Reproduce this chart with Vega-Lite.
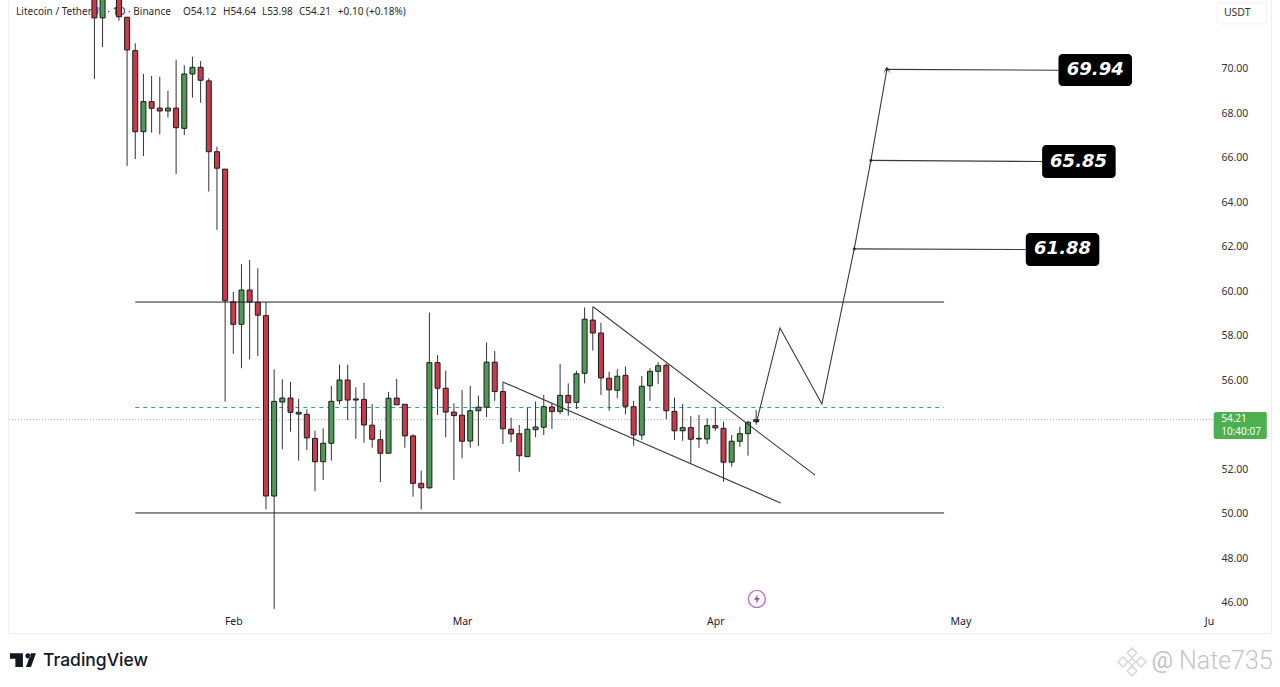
{
  "$schema": "https://vega.github.io/schema/vega-lite/v6.json",
  "width": 1280,
  "height": 687,
  "padding": 0,
  "autosize": {"type": "none"},
  "background": "#ffffff",
  "config": {"view": {"stroke": null}},
  "datasets": {
    "candles": [
      {"date":"2026-01-15","open":73.5,"high":74,"low":69.51,"close":72.25},
      {"date":"2026-01-16","open":72.25,"high":74.5,"low":70.94,"close":74},
      {"date":"2026-01-18","open":74,"high":74.5,"low":72.12,"close":72.3},
      {"date":"2026-01-19","open":72.28,"high":72.29,"low":65.6,"close":70.81},
      {"date":"2026-01-20","open":70.78,"high":71.11,"low":65.91,"close":67.14},
      {"date":"2026-01-21","open":67.14,"high":69.73,"low":66.05,"close":68.49},
      {"date":"2026-01-22","open":68.49,"high":69.64,"low":67.1,"close":68.19},
      {"date":"2026-01-23","open":68.2,"high":69.61,"low":67.02,"close":68.07},
      {"date":"2026-01-24","open":68.07,"high":68.98,"low":67.77,"close":68.2},
      {"date":"2026-01-25","open":68.2,"high":70.36,"low":65.24,"close":67.32},
      {"date":"2026-01-26","open":67.29,"high":70.12,"low":66.98,"close":69.73},
      {"date":"2026-01-27","open":69.73,"high":70.51,"low":68.67,"close":70.03},
      {"date":"2026-01-28","open":70.03,"high":70.31,"low":68.44,"close":69.45},
      {"date":"2026-01-29","open":69.42,"high":69.54,"low":64.45,"close":66.24},
      {"date":"2026-01-30","open":66.24,"high":66.47,"low":62.73,"close":65.5},
      {"date":"2026-01-31","open":65.46,"high":65.46,"low":55.02,"close":59.55},
      {"date":"2026-02-01","open":59.5,"high":59.95,"low":57.16,"close":58.49},
      {"date":"2026-02-02","open":58.49,"high":61.19,"low":56.52,"close":60.03},
      {"date":"2026-02-03","open":60.03,"high":61.38,"low":56.92,"close":59.49},
      {"date":"2026-02-04","open":59.48,"high":61.01,"low":57.07,"close":58.9},
      {"date":"2026-02-05","open":58.88,"high":59.49,"low":50.18,"close":50.78},
      {"date":"2026-02-06","open":50.78,"high":56.47,"low":45.71,"close":55.03},
      {"date":"2026-02-07","open":55,"high":56.02,"low":52.88,"close":55.18},
      {"date":"2026-02-08","open":55.18,"high":55.91,"low":53.67,"close":54.54},
      {"date":"2026-02-09","open":54.46,"high":55.14,"low":52.37,"close":54.54},
      {"date":"2026-02-10","open":54.45,"high":54.67,"low":52.85,"close":53.39},
      {"date":"2026-02-11","open":53.37,"high":53.71,"low":51,"close":52.32},
      {"date":"2026-02-12","open":52.32,"high":53.82,"low":51.5,"close":53.15},
      {"date":"2026-02-13","open":53.15,"high":55.72,"low":52.37,"close":55.03},
      {"date":"2026-02-14","open":55.06,"high":56.68,"low":54.9,"close":55.99},
      {"date":"2026-02-15","open":55.99,"high":56.68,"low":54.19,"close":55.09},
      {"date":"2026-02-16","open":55.14,"high":55.66,"low":53.35,"close":55.09},
      {"date":"2026-02-17","open":55.12,"high":55.87,"low":53.17,"close":53.97},
      {"date":"2026-02-18","open":53.96,"high":54.91,"low":52.95,"close":53.33},
      {"date":"2026-02-19","open":53.31,"high":53.75,"low":51.41,"close":52.7},
      {"date":"2026-02-20","open":52.7,"high":55.45,"low":52.7,"close":55.17},
      {"date":"2026-02-21","open":55.18,"high":56.04,"low":54.88,"close":54.88},
      {"date":"2026-02-22","open":54.9,"high":54.9,"low":52.95,"close":53.48},
      {"date":"2026-02-23","open":53.48,"high":53.55,"low":50.75,"close":51.35},
      {"date":"2026-02-24","open":51.35,"high":51.92,"low":50.18,"close":51.15},
      {"date":"2026-02-25","open":51.15,"high":59.01,"low":51.1,"close":56.77},
      {"date":"2026-02-26","open":56.77,"high":57.11,"low":54.42,"close":55.62},
      {"date":"2026-02-27","open":55.62,"high":56.41,"low":53.42,"close":54.55},
      {"date":"2026-02-28","open":54.55,"high":54.94,"low":51.5,"close":54.39},
      {"date":"2026-03-01","open":54.41,"high":55.54,"low":52.48,"close":53.24},
      {"date":"2026-03-02","open":53.25,"high":55.72,"low":52.95,"close":54.61},
      {"date":"2026-03-03","open":54.61,"high":55.29,"low":53.03,"close":54.77},
      {"date":"2026-03-04","open":54.77,"high":57.67,"low":54.32,"close":56.79},
      {"date":"2026-03-05","open":56.79,"high":57.29,"low":55.05,"close":55.47},
      {"date":"2026-03-06","open":55.47,"high":55.91,"low":53.12,"close":53.8},
      {"date":"2026-03-07","open":53.78,"high":54.3,"low":53.19,"close":53.57},
      {"date":"2026-03-08","open":53.58,"high":53.97,"low":51.87,"close":52.59},
      {"date":"2026-03-09","open":52.55,"high":54.77,"low":52.55,"close":53.78},
      {"date":"2026-03-10","open":53.76,"high":55.02,"low":53.42,"close":53.88},
      {"date":"2026-03-11","open":53.87,"high":55.32,"low":53.52,"close":54.79},
      {"date":"2026-03-12","open":54.78,"high":54.97,"low":53.79,"close":54.57},
      {"date":"2026-03-13","open":54.58,"high":56.71,"low":54.46,"close":55.3},
      {"date":"2026-03-14","open":55.3,"high":55.84,"low":54.39,"close":54.97},
      {"date":"2026-03-15","open":54.99,"high":56.41,"low":54.69,"close":56.27},
      {"date":"2026-03-16","open":56.29,"high":59.25,"low":55.84,"close":58.72},
      {"date":"2026-03-17","open":58.68,"high":59.28,"low":57.31,"close":58.1},
      {"date":"2026-03-18","open":58.1,"high":58.56,"low":55.32,"close":56.08},
      {"date":"2026-03-19","open":56.07,"high":56.36,"low":54.61,"close":55.55},
      {"date":"2026-03-20","open":55.53,"high":56.47,"low":55.17,"close":56.16},
      {"date":"2026-03-21","open":56.2,"high":56.59,"low":54.45,"close":54.81},
      {"date":"2026-03-22","open":54.79,"high":55.05,"low":53.04,"close":53.52},
      {"date":"2026-03-23","open":53.52,"high":56.17,"low":53.3,"close":55.71},
      {"date":"2026-03-24","open":55.73,"high":56.52,"low":55.05,"close":56.38},
      {"date":"2026-03-25","open":56.38,"high":56.79,"low":55.81,"close":56.63},
      {"date":"2026-03-26","open":56.65,"high":56.74,"low":54.23,"close":54.61},
      {"date":"2026-03-27","open":54.58,"high":55.2,"low":53.3,"close":53.71},
      {"date":"2026-03-28","open":53.71,"high":54.91,"low":53.26,"close":53.85},
      {"date":"2026-03-29","open":53.85,"high":54.37,"low":52.25,"close":53.33},
      {"date":"2026-03-30","open":53.37,"high":54.42,"low":52.95,"close":53.34},
      {"date":"2026-03-31","open":53.34,"high":54.27,"low":53.12,"close":53.94},
      {"date":"2026-04-01","open":53.94,"high":54.77,"low":53.71,"close":53.84},
      {"date":"2026-04-02","open":53.82,"high":54.12,"low":51.42,"close":52.3},
      {"date":"2026-04-03","open":52.3,"high":53.52,"low":52.1,"close":53.24},
      {"date":"2026-04-04","open":53.24,"high":53.89,"low":52.99,"close":53.58},
      {"date":"2026-04-05","open":53.58,"high":54.16,"low":52.59,"close":54.09},
      {"date":"2026-04-06","open":54.12,"high":54.64,"low":53.98,"close":54.21}
    ],
    "levels": [
      {"id":"top","date":"2026-01-20","price":59.49},
      {"id":"top","date":"2026-04-29","price":59.49},
      {"id":"bottom","date":"2026-01-20","price":50.02},
      {"id":"bottom","date":"2026-04-29","price":50.02}
    ],
    "drawing": [
      {"id":"upper","date":"2026-03-17T01:00:00Z","price":59.28},
      {"id":"upper","date":"2026-04-13T05:00:00Z","price":51.72},
      {"id":"lower","date":"2026-03-06","price":55.9},
      {"id":"lower","date":"2026-04-09","price":50.47},
      {"id":"path","date":"2026-04-06T02:00:00Z","price":54.15},
      {"id":"path","date":"2026-04-08T22:00:00Z","price":58.33},
      {"id":"path","date":"2026-04-14T01:00:00Z","price":54.91},
      {"id":"path","date":"2026-04-18","price":61.88},
      {"id":"path","date":"2026-04-20T01:00:00Z","price":65.85},
      {"id":"path","date":"2026-04-22","price":69.94},
      {"id":"t1","date":"2026-04-18","price":61.88},
      {"id":"t1","date":"2026-05-09","price":61.85},
      {"id":"t2","date":"2026-04-20T01:00:00Z","price":65.85},
      {"id":"t2","date":"2026-05-11","price":65.8},
      {"id":"t3","date":"2026-04-22","price":69.94},
      {"id":"t3","date":"2026-05-13","price":69.9}
    ],
    "nodes": [
      {"date":"2026-04-06T02:00:00Z","price":54.15},
      {"date":"2026-04-18","price":61.88},
      {"date":"2026-04-20T01:00:00Z","price":65.85},
      {"date":"2026-04-22","price":69.94}
    ],
    "targets": [
      {"date":"2026-05-13","date2":"2026-05-22","price":70.63,"price2":69.19,"mid":"2026-05-17T12:00:00Z","pmid":69.91,"label":"69.94"},
      {"date":"2026-05-11","date2":"2026-05-20","price":66.54,"price2":65.06,"mid":"2026-05-15T11:00:00Z","pmid":65.8,"label":"65.85"},
      {"date":"2026-05-09","date2":"2026-05-18","price":62.59,"price2":61.11,"mid":"2026-05-13T12:00:00Z","pmid":61.85,"label":"61.88"}
    ],
    "header": [
      {"date":"2026-01-05T10:00:00Z","price":72.51,"label":"Litecoin / TetherUS · 1D · Binance"},
      {"date":"2026-01-25T20:00:00Z","price":72.51,"label":"O54.12"},
      {"date":"2026-01-30T18:00:00Z","price":72.51,"label":"H54.64"},
      {"date":"2026-02-04T12:00:00Z","price":72.51,"label":"L53.98"},
      {"date":"2026-02-09T01:00:00Z","price":72.51,"label":"C54.21"},
      {"date":"2026-02-13T19:00:00Z","price":72.51,"label":"+0.10 (+0.18%)"}
    ],
    "lastPrice": [
      {"date":"2026-06-01T22:00:00Z","price":54.26,"label":"54.21"},
      {"date":"2026-06-01T22:00:00Z","price":53.66,"label":"10:40:07"}
    ]
  },
  "encoding": {
    "x": {
      "field": "date",
      "type": "temporal",
      "title": null,
      "scale": {"type": "utc", "padding": 0, "domain": [1767436761600, 1780973136000]},
      "axis": {
        "orient": "bottom",
        "offset": -71,
        "values": [1769904000000, 1772323200000, 1775001600000, 1777593600000, 1780272000000],
        "format": "%b",
        "labelExpr": "datum.label == 'Jun' ? 'Ju' : datum.label",
        "labelAlign": {"condition": {"test": "datum.value > 1780000000000", "value": "right"}, "value": "center"},
        "labelFont": "Noto Sans",
        "labelFontSize": 10.5,
        "labelColor": "#222222",
        "labelPadding": 0,
        "labelFlush": false,
        "labelOverlap": false,
        "ticks": false,
        "domain": false,
        "grid": false
      }
    },
    "y": {
      "field": "price",
      "type": "quantitative",
      "title": null,
      "scale": {"domain": [42.205, 73.053], "nice": false, "zero": false},
      "axis": {
        "orient": "right",
        "offset": -59,
        "values": [46, 48, 50, 52, 56, 58, 60, 62, 64, 66, 68, 70],
        "format": ".2f",
        "labelFont": "Noto Sans",
        "labelFontSize": 10.5,
        "labelColor": "#333333",
        "labelPadding": 0,
        "labelOffset": 0.5,
        "ticks": false,
        "domain": false,
        "grid": false
      }
    }
  },
  "layer": [
    {
      "data": {"values": [{"date":"2026-01-04T12:00:00Z","date2":"2026-06-08T02:00:00Z","price":74,"price2":44.61}]},
      "mark": {"type": "rect", "fill": null, "stroke": "#eeeeee", "strokeWidth": 1},
      "encoding": {"x2": {"field": "date2"}, "y2": {"field": "price2"}}
    },
    {
      "data": {"name": "header"},
      "mark": {"type": "text", "align": "left", "baseline": "middle", "font": "Noto Sans", "fontSize": 10, "color": "#2a2a2a"},
      "encoding": {"text": {"field": "label"}}
    },
    {
      "data": {"values": [{"date":"2026-01-04T13:00:00Z","price":54.21},{"date":"2026-06-01","price":54.21}]},
      "mark": {"type": "line", "stroke": "#9fb0a4", "strokeWidth": 1, "strokeDash": [1, 2]}
    },
    {
      "data": {"values": [{"date":"2026-01-20","price":54.755},{"date":"2026-04-29","price":54.755}]},
      "mark": {"type": "line", "stroke": "#2f9db5", "strokeWidth": 1, "strokeDash": [4, 4]}
    },
    {
      "data": {"name": "candles"},
      "mark": {"type": "rule", "stroke": "#333333", "strokeWidth": 1},
      "encoding": {
        "y": {"field": "high", "type": "quantitative", "title": null},
        "y2": {"field": "low"}
      }
    },
    {
      "data": {"name": "candles"},
      "mark": {"type": "bar", "size": 5, "stroke": "#1c1c1c", "strokeWidth": 1},
      "encoding": {
        "y": {"field": "open", "type": "quantitative", "title": null},
        "y2": {"field": "close"},
        "color": {
          "condition": {"test": "datum.close >= datum.open", "value": "#4f9a57"},
          "value": "#c93a4b"
        }
      }
    },
    {
      "data": {"name": "levels"},
      "mark": {"type": "line", "stroke": "#222222", "strokeWidth": 1},
      "encoding": {"detail": {"field": "id"}}
    },
    {
      "data": {"name": "drawing"},
      "mark": {"type": "line", "stroke": "#3a3a3a", "strokeWidth": 1.1},
      "encoding": {"detail": {"field": "id"}}
    },
    {
      "data": {"name": "nodes"},
      "mark": {"type": "point", "filled": true, "size": 10, "color": "#111111"}
    },
    {
      "data": {"values": [{"date":"2026-04-22","price":69.92}]},
      "mark": {"type": "point", "shape": "M-1 1L0 -1L1 1", "filled": false, "size": 30, "stroke": "#333333", "strokeWidth": 1}
    },
    {
      "data": {"name": "targets"},
      "mark": {"type": "rect", "fill": "#000000", "cornerRadius": 4},
      "encoding": {"x2": {"field": "date2"}, "y2": {"field": "price2"}}
    },
    {
      "data": {"name": "targets"},
      "mark": {"type": "text", "font": "DejaVu Sans", "fontSize": 18, "fontWeight": "bold", "fontStyle": "italic", "color": "#ffffff", "baseline": "middle"},
      "encoding": {
        "x": {"field": "mid", "type": "temporal"},
        "y": {"field": "pmid", "type": "quantitative", "title": null},
        "text": {"field": "label"}
      }
    },
    {
      "data": {"values": [{"date":"2026-06-01","date2":"2026-06-07T12:00:00Z","price":54.55,"price2":53.34}]},
      "mark": {"type": "rect", "fill": "#4caf50", "cornerRadius": 2},
      "encoding": {"x2": {"field": "date2"}, "y2": {"field": "price2"}}
    },
    {
      "data": {"name": "lastPrice"},
      "mark": {"type": "text", "align": "left", "baseline": "middle", "font": "Noto Sans", "fontSize": 10, "color": "#ffffff"},
      "encoding": {"text": {"field": "label"}}
    },
    {
      "data": {"values": [{"date":"2026-06-01T10:00:00Z","date2":"2026-06-07T12:00:00Z","price":72.92,"price2":71.98}]},
      "mark": {"type": "rect", "fill": "#ffffff", "stroke": "#efefef", "cornerRadius": 3},
      "encoding": {"x2": {"field": "date2"}, "y2": {"field": "price2"}}
    },
    {
      "data": {"values": [{"date":"2026-06-03T21:00:00Z","price":72.47,"label":"USDT"}]},
      "mark": {"type": "text", "baseline": "middle", "font": "Noto Sans", "fontSize": 10.5, "color": "#333333"},
      "encoding": {"text": {"field": "label"}}
    },
    {
      "data": {"values": [{"date":"2026-04-06T02:00:00Z","price":46.16}]},
      "mark": {"type": "point", "shape": "circle", "filled": false, "size": 289, "stroke": "#9c3fb0", "strokeWidth": 1.4}
    },
    {
      "data": {"values": [{"date":"2026-04-06T02:00:00Z","price":46.16}]},
      "mark": {"type": "point", "shape": "M.2 -1L-.6 .2H-.05L-.2 1L.6 -.2H.05Z", "filled": true, "size": 90, "color": "#9c3fb0", "opacity": 1}
    },
    {
      "data": {"values": [{"date":"2026-01-06T06:00:00Z","price":43.4}]},
      "mark": {"type": "point", "shape": "M-1 -.54H0V.5H-.58V-.12H-1ZM.185 -.35a.2 .2 0 1 0 .4 0a.2 .2 0 1 0 -.4 0ZM.62 -.54H1L.62 .5H.23Z", "filled": true, "size": 676, "color": "#131722", "opacity": 1}
    },
    {
      "data": {"values": [{"date":"2026-01-08T17:00:00Z","price":43.38,"label":"TradingView"}]},
      "mark": {"type": "text", "align": "left", "baseline": "middle", "font": "Inter", "fontSize": 17.5, "fontWeight": 500, "color": "#131722"},
      "encoding": {"text": {"field": "label"}}
    },
    {
      "data": {"values": [{"date":"2026-05-22","price":43.33}]},
      "mark": {"type": "point", "shape": "M0 -1L.35 -.65L0 -.3L-.35 -.65ZM-.65 -.35L-.3 0L-.65 .35L-1 0ZM.65 -.35L1 0L.65 .35L.3 0ZM0 .3L.35 .65L0 1L-.35 .65ZM0 -.25L.25 0L0 .25L-.25 0Z", "filled": false, "size": 784, "stroke": "#d8d8d8", "strokeWidth": 1.5, "opacity": 1}
    },
    {
      "data": {"values": [{"date":"2026-05-25T17:00:00Z","price":43.37,"label":"@"}]},
      "mark": {"type": "text", "baseline": "middle", "font": "Roboto", "fontSize": 24, "color": "#c4c4c4"},
      "encoding": {"text": {"field": "label"}}
    },
    {
      "data": {"values": [{"date":"2026-05-27T18:00:00Z","price":43.37,"label":"Nate735"}]},
      "mark": {"type": "text", "align": "left", "baseline": "middle", "font": "Roboto", "fontWeight": 300, "fontSize": 25, "color": "#c4c4c4"},
      "encoding": {"text": {"field": "label"}}
    }
  ]
}
